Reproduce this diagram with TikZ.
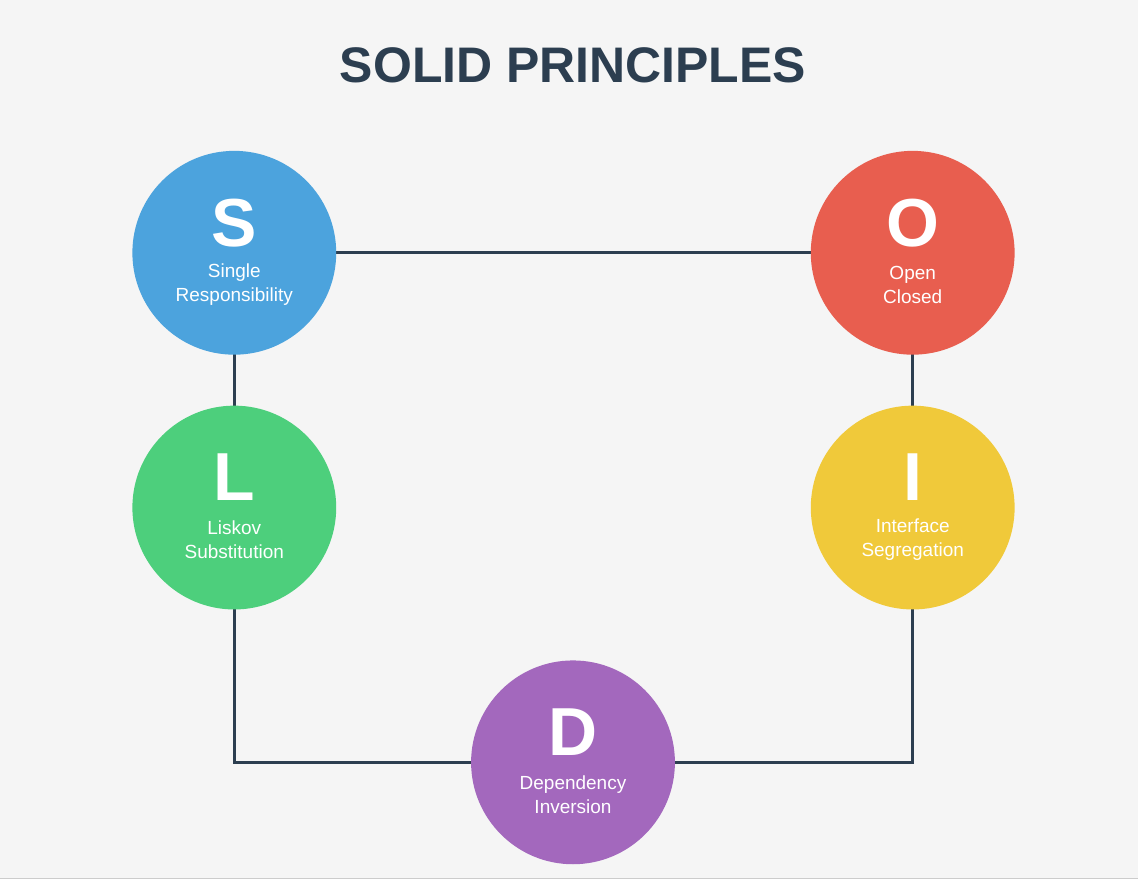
\documentclass[tikz,border=0pt]{standalone}
\usepackage{fontspec}
\setmainfont{Liberation Sans}
\definecolor{bg}{HTML}{F5F5F5}
\definecolor{ink}{HTML}{2C3E50}
\definecolor{cS}{HTML}{4CA3DD}
\definecolor{cO}{HTML}{E85E4F}
\definecolor{cL}{HTML}{4DCF7C}
\definecolor{cI}{HTML}{F0C93A}
\definecolor{cD}{HTML}{A368BD}
\begin{document}
\begin{tikzpicture}[x=1pt,y=-1pt,
  principle/.style={circle,minimum size=204pt,inner sep=0pt},
  letter/.style={text=white,font=\fontsize{68}{68}\selectfont\bfseries},
  lbl/.style={text=white,font=\fontsize{19}{24}\selectfont,align=center},
  link/.style={draw=ink,line width=3pt}]
\fill[bg] (0,0) rectangle (1138,880);
\draw[gray!40,line width=1pt] (0,879) -- (1138,879);
\node[text=ink,font=\fontsize{50}{50}\selectfont\bfseries] (title) at (573,65) {SOLID PRINCIPLES};
\coordinate (cl) at (234,763);
\coordinate (cr) at (913,763);
\path[link] (234,253) -- (913,253);
\path[link] (234,253) -- (234,508);
\path[link] (913,253) -- (913,508);
\path[link] (234,508) -- (cl) -- (573,763) -- (cr) -- (913,508);
\foreach \n/\x/\y/\c/\L/\t in {S/234/253/cS/S/{Single\\Responsibility},O/913/253/cO/O/{Open\\Closed},L/234/508/cL/L/{Liskov\\Substitution},I/913/508/cI/I/{Interface\\Segregation},D/573/763/cD/D/{Dependency\\Inversion}}{
  \node[principle,fill=\c] (\n) at (\x,\y) {};
  \node[letter] (\n-let) at (\x,\y-30) {\L};
  \node[lbl] (\n-lbl) at (\x,\y+32) {\t};
}
\end{tikzpicture}
\end{document}
